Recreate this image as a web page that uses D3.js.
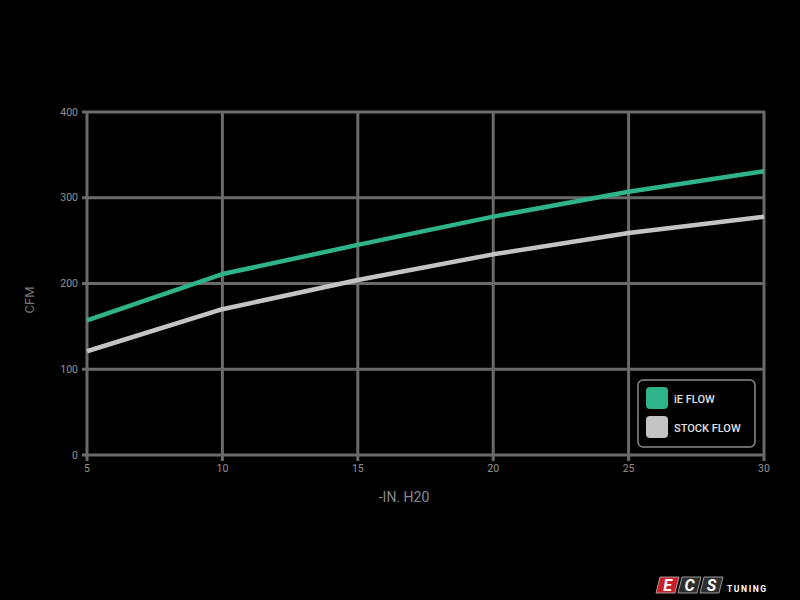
<!DOCTYPE html>
<html><head><meta charset="utf-8">
<script src="https://cdn.jsdelivr.net/npm/d3@7/dist/d3.min.js"></script>
<style>body{margin:0;background:#000}svg{display:block}</style>
</head><body>
<svg id="c" width="800" height="600"></svg>
<script>
const pressure = [5, 10, 15, 20, 25, 30];
const ieFlow = [157, 211, 245, 278, 307, 331];
const stockFlow = [121, 170, 204, 234, 259, 278];
const xTicks = [5, 10, 15, 20, 25, 30];
const yTicks = [0, 100, 200, 300, 400];
const seriesNames = ["iE FLOW", "STOCK FLOW"];
const seriesColors = ["#2fb38a", "#c4c4c4"];

const svg = d3.select("#c");
svg.append("rect").attr("width", 800).attr("height", 600).attr("fill", "#000");
const x = d3.scaleLinear().domain([5, 30]).range([87, 764]);
const y = d3.scaleLinear().domain([0, 400]).range([455, 112]);
const gridColor = "#6a6a6a";
const font = "'Roboto', 'DejaVu Sans Condensed', sans-serif";

// grid
svg.append("g").selectAll("line").data(yTicks).join("line")
  .attr("x1", 82).attr("x2", 765).attr("y1", d => y(d)).attr("y2", d => y(d))
  .attr("stroke", gridColor).attr("stroke-width", 3);
svg.append("g").selectAll("line").data(xTicks).join("line")
  .attr("x1", d => x(d)).attr("x2", d => x(d)).attr("y1", 111).attr("y2", 461)
  .attr("stroke", gridColor).attr("stroke-width", 3);

// tick labels
svg.append("g").selectAll("text").data(yTicks).join("text")
  .attr("x", 78).attr("y", d => y(d)).attr("dy", "0.35em").attr("text-anchor", "end")
  .attr("fill", "#939393").attr("font-family", font).attr("font-size", 10.5).text(d => d);
svg.append("g").selectAll("text").data(xTicks).join("text")
  .attr("x", d => x(d)).attr("y", 472).attr("text-anchor", "middle")
  .attr("fill", "#939393").attr("font-family", font).attr("font-size", 10.5).text(d => d);

// axis titles
svg.append("text").attr("transform", "translate(34,300) rotate(-90)").attr("text-anchor", "middle")
  .attr("fill", "#777").attr("font-family", font).attr("font-size", 13).text("CFM");
svg.append("text").attr("x", 404).attr("y", 502).attr("text-anchor", "middle")
  .attr("fill", "#8a8a8a").attr("font-family", font).attr("font-size", 14).text("-IN. H20");

// lines
const line = d3.line().x((d, i) => x(pressure[i])).y(d => y(d));
[stockFlow, ieFlow].forEach((s, k) => {
  svg.append("path").attr("d", line(s)).attr("fill", "none")
    .attr("stroke", k === 1 ? seriesColors[0] : seriesColors[1]).attr("stroke-width", 4.5)
    .attr("stroke-linejoin", "round");
});

// legend
const lg = svg.append("g");
lg.append("rect").attr("x", 638).attr("y", 380).attr("width", 117).attr("height", 67).attr("rx", 5)
  .attr("fill", "#000").attr("stroke", "#8a8a8a").attr("stroke-width", 1.5);
seriesNames.forEach((n, i) => {
  lg.append("rect").attr("x", 646).attr("y", 387 + i * 29).attr("width", 22).attr("height", 22).attr("rx", 4)
    .attr("fill", seriesColors[i]);
  lg.append("text").attr("x", 674).attr("y", 403 + i * 29).attr("fill", "#e0e0e0")
    .attr("font-family", font).attr("font-weight", 500).attr("font-size", 11).text(n);
});

// logo
const logo = svg.append("g");
const letters = ["E", "C", "S"];
letters.forEach((l, i) => {
  const x0 = 656 + i * 22;
  logo.append("path").attr("d", `M${x0 + 4},577 L${x0 + 23},577 L${x0 + 19},593 L${x0},593 Z`)
    .attr("fill", i === 0 ? "#c8202a" : "#2e2e2e").attr("stroke", "#bbb").attr("stroke-width", 0.8);
  logo.append("text").attr("x", x0 + 11.5).attr("y", 591).attr("text-anchor", "middle")
    .attr("fill", "#fff").attr("font-family", font).attr("font-weight", "bold").attr("font-style", "italic")
    .attr("font-size", 16).text(l);
});
logo.append("text").attr("x", 727).attr("y", 592).attr("fill", "#fff").attr("font-family", font)
  .attr("font-weight", "bold").attr("font-size", 8.5).attr("letter-spacing", 1.6).text("TUNING");
</script>
</body></html>
